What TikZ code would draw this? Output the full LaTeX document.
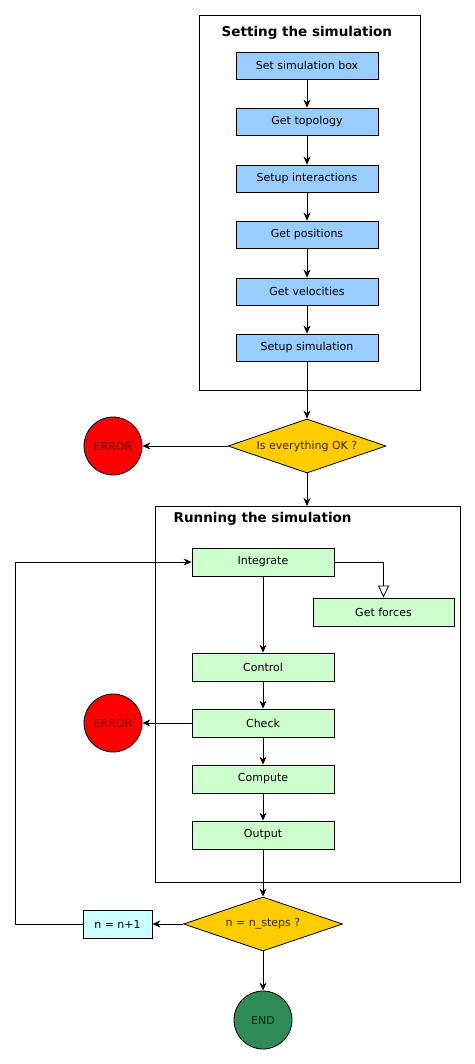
\documentclass[tikz,border=0pt]{standalone}
\usepackage{fontspec}
\setmainfont{DejaVu Sans}
\usetikzlibrary{shapes.geometric,arrows.meta}
\definecolor{bluebox}{HTML}{99CCFF}
\definecolor{greenbox}{HTML}{CCFFCC}
\definecolor{cyanbox}{HTML}{CCFFFF}
\definecolor{gold}{HTML}{FFCC00}
\definecolor{endgreen}{HTML}{2E8B57}
\begin{document}
\begin{tikzpicture}[x=1pt,y=-1pt,
  line width=0.8pt,
  every node/.style={font=\fontsize{11}{13}\selectfont},
  stepblue/.style={draw, fill=bluebox, minimum width=142pt, minimum height=27pt, inner sep=0pt},
  stepgreen/.style={draw, fill=greenbox, minimum width=142pt, minimum height=28pt, inner sep=0pt},
  decision/.style={draw, fill=gold, diamond, aspect=2.93, inner sep=0pt, minimum width=158pt, minimum height=54pt, text=black!70!brown},
  terminal/.style={draw, circle, minimum size=58pt, inner sep=0pt},
  frame/.style={draw, line width=0.9pt},
  title/.style={font=\fontsize{13.5}{15}\selectfont\bfseries, anchor=west},
  arr/.style={-{Stealth[length=8pt,width=7pt]}},
  openarr/.style={-{Triangle[open,length=12pt,width=11pt,fill=white]}}
]
\useasboundingbox (0,0) rectangle (474,1064);
% top frame
\node[frame, minimum width=221pt, minimum height=375pt, inner sep=0pt, anchor=north west] (top) at (199,15) {};
\node[title] (t1) at (218,33) {Setting the simulation};
\node[stepblue] (s1) at (307,65.5) {Set simulation box};
\node[stepblue] (s2) at (307,121.5) {Get topology};
\node[stepblue] (s3) at (307,178.5) {Setup interactions};
\node[stepblue] (s4) at (307,234.5) {Get positions};
\node[stepblue] (s5) at (307,291.5) {Get velocities};
\node[stepblue] (s6) at (307,347.5) {Setup simulation};
\foreach \a/\b in {s1/s2,s2/s3,s3/s4,s4/s5,s5/s6}
  \draw[arr] (\a) -- (\b);
\node[decision] (d1) at (307,446) {Is everything OK ?};
\node[terminal, fill=red, text=red!45!black] (e1) at (113,446) {ERROR};
\draw[arr] (s6.south) -- (d1.north);
\draw[arr] (d1.west) -- (e1.east);
% bottom frame
\node[frame, minimum width=305pt, minimum height=376pt, inner sep=0pt, anchor=north west] (bot) at (155,506) {};
\draw[arr] (d1.south) -- (bot.north -| d1.south);
\node[title] (t2) at (170,519) {Running the simulation};
\node[stepgreen] (g1) at (263,562) {Integrate};
\node[stepgreen, minimum width=141pt] (gf) at (383.5,612) {Get forces};
\node[stepgreen] (g2) at (263,667) {Control};
\node[stepgreen] (g3) at (263,723) {Check};
\node[stepgreen] (g4) at (263,779) {Compute};
\node[stepgreen] (g5) at (263,835) {Output};
\draw[openarr] (g1.east) -| (gf.north);
\foreach \a/\b in {g1/g2,g2/g3,g3/g4,g4/g5}
  \draw[arr] (\a) -- (\b);
\node[terminal, fill=red, text=red!45!black] (e2) at (113,723) {ERROR};
\draw[arr] (g3.west) -- (e2.east);
\node[decision, minimum width=159pt] (d2) at (263,924) {n = n\_steps ?};
\draw[arr] (g5.south) -- (d2.north);
\node[draw, fill=cyanbox, minimum width=69pt, minimum height=28pt, inner sep=0pt] (inc) at (117.5,924) {n = n+1};
\draw[arr] (d2.west) -- (inc.east);
\coordinate (lp) at (15,924);
\draw[arr] (inc.west) -- (lp) |- (g1.west);
\node[terminal, fill=endgreen, text=black!80!green] (en) at (263,1020) {END};
\draw[arr] (d2.south) -- (en.north);
\end{tikzpicture}
\end{document}
